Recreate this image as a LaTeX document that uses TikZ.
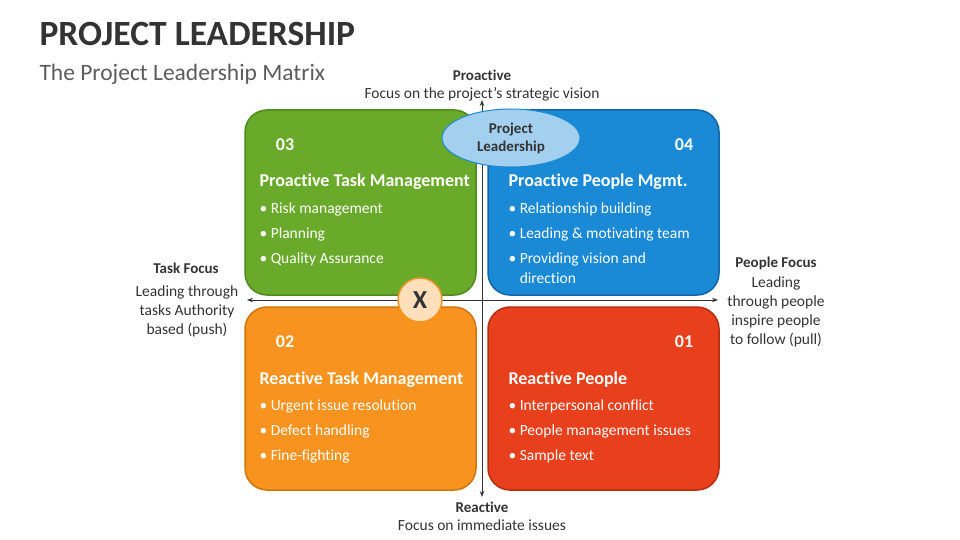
\documentclass[tikz,border=0pt]{standalone}
\usepackage{fontspec}
\setmainfont{Carlito}[Ligatures=NoCommon]
\usetikzlibrary{arrows.meta,shapes.geometric}
\definecolor{cg}{HTML}{6AAA2A}\definecolor{cgd}{HTML}{4E8A1C}
\definecolor{cb}{HTML}{1A8AD6}\definecolor{cbd}{HTML}{1066A8}
\definecolor{co}{HTML}{F7931E}\definecolor{cod}{HTML}{D0740C}
\definecolor{cr}{HTML}{E8401C}\definecolor{crd}{HTML}{B52E10}
\definecolor{tx}{HTML}{333333}
\begin{document}
\begin{tikzpicture}[x=1pt,y=-1pt,
  quad/.style={rounded corners=22pt,line width=1.5pt},
  wt/.style={text=white,anchor=west,font=\fontsize{15.5}{17}\selectfont},
  hd/.style={text=white,anchor=west,font=\fontsize{18}{20}\selectfont\bfseries},
  num/.style={text=white,anchor=center,font=\fontsize{18}{20}\selectfont\bfseries},
  lb/.style={text=tx,font=\fontsize{15.5}{19}\selectfont,align=center},
  lbb/.style={text=tx,font=\fontsize{15}{17}\selectfont\bfseries,align=center},
  ax/.style={line width=1pt,draw=tx,{Stealth[length=6pt]}-{Stealth[length=6pt]}}]
\useasboundingbox (0,0) rectangle (960,540);
\node[anchor=west,text=tx,font=\fontsize{35.5}{38}\selectfont\bfseries] (t) at (36,34) {PROJECT LEADERSHIP};
\node[anchor=west,text=tx!80,font=\fontsize{23.5}{25}\selectfont] (st) at (36,74) {The Project Leadership Matrix};
\draw[quad,fill=cg,draw=cgd] (245,110) rectangle (476,295);
\draw[quad,fill=cb,draw=cbd] (488,110) rectangle (719,295);
\draw[quad,fill=co,draw=cod] (245,307) rectangle (476,490);
\draw[quad,fill=cr,draw=crd] (488,307) rectangle (719,490);
\coordinate (vt) at (482,100);\coordinate (vb) at (482,497);
\coordinate (hl) at (247,300);\coordinate (hr) at (718,300);
\draw[ax] (vt)--(vb);
\draw[ax] (hl)--(hr);
\node[draw=cb,line width=1pt,fill=cb!40!white,ellipse,minimum width=138pt,minimum height=58pt,
  font=\fontsize{15}{18}\selectfont\bfseries,text=tx,align=center] (pl) at (511,138) {Project\\Leadership};
\node[circle,draw=co,line width=1.5pt,fill=co!30!white,minimum size=44pt,text=tx,
  font=\fontsize{26}{26}\selectfont\bfseries] (x) at (420,300) {X};
\node[num] (n3) at (285,145) {03};
\node[hd] (h3) at (256,182) {Proactive Task Management};
\node[wt] (a1) at (256,209) {• Risk management};
\node[wt] (a2) at (256,234) {• Planning};
\node[wt] (a3) at (256,259) {• Quality Assurance};
\node[num] (n4) at (684,145) {04};
\node[hd] (h4) at (505,182) {Proactive People Mgmt.};
\node[wt] (b1) at (505,209) {• Relationship building};
\node[wt] (b2) at (505,234) {• Leading \& motivating team};
\node[wt] (b3) at (505,259) {• Providing vision and};
\node[wt] (b4) at (505,278) {\phantom{• }direction};
\node[num] (n2) at (285,342) {02};
\node[hd] (h2) at (256,380) {Reactive Task Management};
\node[wt] (c1) at (256,406) {• Urgent issue resolution};
\node[wt] (c2) at (256,431) {• Defect handling};
\node[wt] (c3) at (256,456) {• Fine-fighting};
\node[num] (n1) at (684,342) {01};
\node[hd] (h1) at (505,380) {Reactive People};
\node[wt] (d1) at (505,406) {• Interpersonal conflict};
\node[wt] (d2) at (505,431) {• People management issues};
\node[wt] (d3) at (505,456) {• Sample text};
\node[lbb] (pa) at (482,75) {Proactive};
\node[lb] (pa2) at (482,94) {Focus on the project’s strategic vision};
\node[lbb] (ra) at (482,507) {Reactive};
\node[lb] (ra2) at (482,525) {Focus on immediate issues};
\node[lbb] (tf) at (186,268) {Task Focus};
\node[lb,anchor=north] (tf2) at (187,282) {Leading through\\tasks Authority\\based (push)};
\node[lbb] (pf) at (776,263) {People Focus};
\node[lb,anchor=north] (pf2) at (776,273) {Leading\\through people\\inspire people\\to follow (pull)};
\end{tikzpicture}
\end{document}
